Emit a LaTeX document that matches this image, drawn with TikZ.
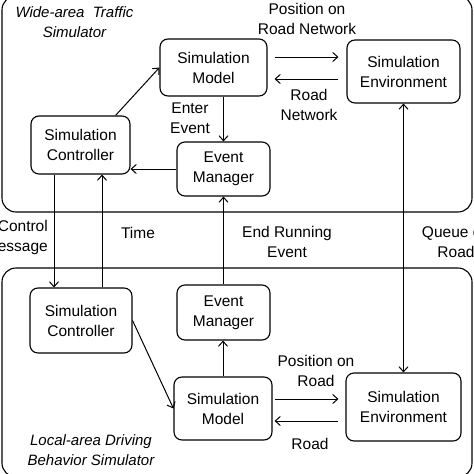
\documentclass[tikz,border=0pt]{standalone}
\usepackage{fontspec}
\setmainfont{Liberation Sans}
\usetikzlibrary{arrows.meta,calc}
\begin{document}
\begin{tikzpicture}[x=1pt,y=-1pt,
  every node/.style={font=\fontsize{15.5}{20}\selectfont},
  box/.style={draw,line width=1.1pt,rounded corners=8pt,align=center,inner sep=0pt},
  lbl/.style={align=center,inner sep=0pt},
  ttl/.style={align=center,inner sep=0pt,font=\fontsize{15}{20}\selectfont\itshape},
  arr/.style={line width=1pt,-{Straight Barb[length=5pt,width=9pt,line width=1pt]}},
  darr/.style={line width=1pt,{Straight Barb[length=5pt,width=9pt,line width=1pt]}-{Straight Barb[length=5pt,width=9pt,line width=1pt]}},
  cont/.style={draw,line width=1.1pt,rounded corners=14pt}]
\useasboundingbox (0,0) rectangle (474,474);
\begin{scope}
\clip (0,0) rectangle (474,474);
\draw[cont] (2,-4) rectangle (472,212);
\draw[cont] (2,268) rectangle (472,477);
\end{scope}
% top nodes
\node[box,minimum width=107pt,minimum height=57pt] (modelT) at (213.5,67.5) {Simulation\\Model};
\node[box,minimum width=113pt,minimum height=63pt] (envT) at (403.5,71.5) {Simulation\\Environment};
\node[box,minimum width=99pt,minimum height=58pt] (ctrlT) at (80.5,145) {Simulation\\Controller};
\node[box,minimum width=93pt,minimum height=54pt] (emT) at (223.5,169) {Event\\Manager};
% bottom nodes
\node[box,minimum width=102pt,minimum height=65pt] (ctrlB) at (81,320.5) {Simulation\\Controller};
\node[box,minimum width=93pt,minimum height=55pt] (emB) at (223.5,312.5) {Event\\Manager};
\node[box,minimum width=98pt,minimum height=63pt] (modelB) at (223,408.5) {Simulation\\Model};
\node[box,minimum width=115pt,minimum height=68pt] (envB) at (403.5,407) {Simulation\\Environment};
% titles
\node[ttl] (tT) at (74.5,22) {Wide-area\ \ Traffic\\Simulator};
\node[ttl] (tB) at (91,450) {Local-area Driving\\Behavior Simulator};
% labels
\node[lbl] (l1) at (307,19) {Position on\\Road Network};
\node[lbl] (l2) at (309,105) {Road\\Network};
\node[lbl] (l3) at (190,118) {Enter\\Event};
\node[lbl] (l4) at (316,371) {Position on\\Road};
\node[lbl] (l5) at (310,444) {Road};
\node[lbl] (l6) at (138,233) {Time};
\node[lbl] (l7) at (287,242) {End Running\\Event};
\node[lbl,anchor=center] (l8) at (456,242) {Queue on\\Road};
\node[lbl,align=right,anchor=east] (l9) at (48,237) {Control\\message};
% top connectors
\draw[arr] ([xshift=-15pt]ctrlT.north east) -- (modelT.west);
\draw[arr] (emT.north |- modelT.south) -- (emT.north);
\draw[arr] (emT.west) -- (emT.west -| ctrlT.east);
\draw[arr] ([xshift=7pt,yshift=10.5pt]modelT.east) -- ([xshift=-8pt,yshift=10.5pt]modelT.east -| envT.west);
\draw[arr] ([xshift=-8pt,yshift=-11.5pt]modelT.east -| envT.west) -- ([xshift=7pt,yshift=-11.5pt]modelT.east);
% crossing connectors
\draw[darr] (envT.south) -- (envB.north);
\draw[arr] ([xshift=-26.5pt]ctrlT.south) -- ([xshift=-26.5pt]ctrlT.south |- ctrlB.north);
\draw[arr] ([xshift=21.5pt]ctrlT.south |- ctrlB.north) -- ([xshift=21.5pt]ctrlT.south);
\draw[arr] (emB.north) -- (emB.north |- emT.south);
% bottom connectors
\draw[arr] (ctrlB.east) -- (modelB.west);
\draw[arr] (modelB.north) -- (modelB.north |- emB.south);
\draw[arr] ([xshift=2pt,yshift=9.5pt]modelB.east) -- ([xshift=-7pt,yshift=9.5pt]modelB.east -| envB.west);
\draw[arr] ([xshift=-7pt,yshift=-12.5pt]modelB.east -| envB.west) -- ([xshift=2pt,yshift=-12.5pt]modelB.east);
\end{tikzpicture}
\end{document}
